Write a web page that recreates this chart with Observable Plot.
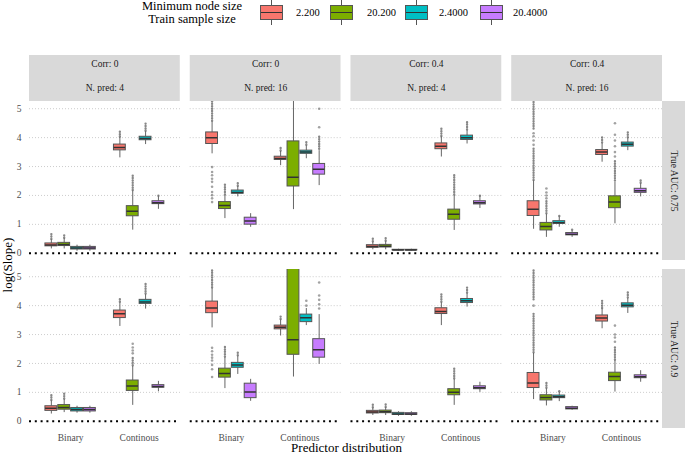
<!DOCTYPE html>
<html>
<head>
<meta charset="utf-8">
<script src="https://cdn.jsdelivr.net/npm/d3@7"></script>
<script src="https://cdn.jsdelivr.net/npm/@observablehq/plot@0.6"></script>
<style>
  body { margin: 0; background: #fff; font-family: "Liberation Serif", serif; }
  #legend { position: relative; width: 685px; height: 45px; }
  .ltitle { position: absolute; left: 132px; width: 120px; top: 0px; text-align: center; font-size: 12.5px; line-height: 12.5px; color: #000; }
  .kbox { position: absolute; top: 5px; width: 23px; height: 15px; box-sizing: border-box; border: 1px solid #555; }
  .kmed { position: absolute; left: 0; right: 0; top: 5.5px; height: 1.4px; background: #333; }
  .kwh { position: absolute; width: 1px; height: 5px; background: #555; }
  .klab { position: absolute; top: 6px; font-size: 10.5px; line-height: 13px; color: #000; }
  svg { display: block; }
  svg text { font-family: "Liberation Serif", serif; }
</style>
</head>
<body>
<div id="legend"></div>
<div id="chart"></div>
<script>
// ---- categories ----
const corrs = ["0", "0", "0.4", "0.4"];
const npreds = ["4", "16", "4", "16"];
const aucs = ["0.75", "0.9"];
const dists = ["Binary", "Continous"];
const groups = ["2.200", "20.200", "2.4000", "20.4000"];
const colors = ["#F8766D", "#7CAE00", "#00BFC4", "#C77CFF"];
const yTicks = [0, 1, 2, 3, 4, 5];
const gridTicks = [1, 2, 3, 4, 5];

// ---- box statistics [whisker low, Q1, median, Q3, whisker high] ----
// order in each panel: Binary (2.200, 20.200, 2.4000, 20.4000), Continous (same)
const p1_corr0_n4_auc075 = [
  [0.15, 0.24, 0.29, 0.34, 0.46], [0.15, 0.25, 0.30, 0.36, 0.50], [0.07, 0.13, 0.18, 0.22, 0.28], [0.07, 0.13, 0.18, 0.22, 0.28],
  [3.30, 3.56, 3.66, 3.76, 4.00], [0.80, 1.28, 1.45, 1.63, 2.15], [3.76, 3.91, 3.97, 4.03, 4.20], [1.52, 1.70, 1.75, 1.80, 1.95]
];
const p2_corr0_n16_auc075 = [
  [3.44, 3.78, 4.00, 4.18, 4.55], [1.20, 1.53, 1.65, 1.77, 2.00], [1.95, 2.06, 2.10, 2.17, 2.30], [0.90, 0.99, 1.12, 1.23, 1.37],
  [3.03, 3.23, 3.28, 3.34, 3.52], [1.51, 2.31, 2.63, 3.87, 6.00], [3.27, 3.44, 3.50, 3.55, 3.72], [2.34, 2.72, 2.91, 3.09, 3.55]
];
const p3_corr04_n4_auc075 = [
  [0.12, 0.19, 0.23, 0.28, 0.38], [0.12, 0.20, 0.24, 0.29, 0.40], [0.08, 0.10, 0.11, 0.12, 0.14], [0.08, 0.10, 0.11, 0.12, 0.14],
  [3.33, 3.60, 3.70, 3.80, 4.02], [0.79, 1.16, 1.35, 1.51, 2.00], [3.78, 3.92, 4.00, 4.07, 4.25], [1.55, 1.69, 1.75, 1.80, 1.95]
];
const p4_corr04_n16_auc075 = [
  [0.83, 1.29, 1.52, 1.80, 2.50], [0.55, 0.79, 0.93, 1.05, 1.35], [0.90, 1.02, 1.06, 1.11, 1.25], [0.55, 0.62, 0.66, 0.70, 0.78],
  [3.15, 3.40, 3.50, 3.57, 3.80], [1.02, 1.56, 1.77, 1.97, 2.45], [3.55, 3.69, 3.77, 3.83, 3.98], [1.95, 2.09, 2.16, 2.23, 2.40]
];
const p5_corr0_n4_auc09 = [
  [0.25, 0.36, 0.45, 0.52, 0.70], [0.30, 0.40, 0.48, 0.56, 0.75], [0.28, 0.34, 0.41, 0.46, 0.52], [0.28, 0.34, 0.41, 0.46, 0.52],
  [3.28, 3.57, 3.72, 3.83, 4.10], [0.55, 1.05, 1.22, 1.41, 1.90], [3.88, 4.06, 4.13, 4.20, 4.38], [1.02, 1.16, 1.20, 1.25, 1.38]
];
const p6_corr0_n16_auc09 = [
  [3.23, 3.74, 3.92, 4.14, 4.60], [1.13, 1.51, 1.65, 1.82, 2.20], [1.62, 1.85, 1.95, 2.02, 2.25], [0.69, 0.80, 1.01, 1.30, 1.45],
  [2.95, 3.18, 3.25, 3.31, 3.50], [1.53, 2.30, 2.82, 5.60, 7.00], [3.31, 3.43, 3.58, 3.69, 3.90], [1.97, 2.20, 2.47, 2.84, 3.69]
];
const p7_corr04_n4_auc09 = [
  [0.20, 0.27, 0.32, 0.36, 0.45], [0.20, 0.28, 0.33, 0.37, 0.46], [0.17, 0.22, 0.25, 0.29, 0.33], [0.17, 0.22, 0.25, 0.28, 0.33],
  [3.31, 3.71, 3.80, 3.91, 4.10], [0.55, 0.90, 1.00, 1.11, 1.45], [3.95, 4.09, 4.17, 4.23, 4.42], [1.00, 1.11, 1.16, 1.21, 1.35]
];
const p8_corr04_n16_auc09 = [
  [0.75, 1.15, 1.32, 1.67, 2.35], [0.53, 0.72, 0.82, 0.90, 1.12], [0.68, 0.80, 0.85, 0.89, 1.00], [0.38, 0.41, 0.45, 0.49, 0.52],
  [3.20, 3.45, 3.57, 3.66, 3.88], [1.01, 1.39, 1.55, 1.68, 2.10], [3.73, 3.94, 4.01, 4.08, 4.25], [1.35, 1.49, 1.54, 1.59, 1.75]
];

// ---- dense outlier runs [panel (1-8), box (0-7), from, to] ----
const outlierRuns = [
  [1,0,0.48,0.68],[1,1,0.52,0.68],[1,4,4.02,4.22],[1,5,2.17,2.75],[1,6,4.22,4.47],[1,7,1.97,2.00],
  [2,0,4.57,5.30],[2,1,2.02,2.40],[2,2,2.32,2.42],[2,4,3.54,3.68],[2,6,3.74,3.85],[2,7,3.60,4.05],
  [3,0,0.40,0.56],[3,1,0.42,0.56],[3,4,4.04,4.30],[3,5,2.02,2.70],[3,6,4.27,4.58],[3,7,1.97,2.02],
  [4,0,2.52,3.60],[4,0,4.30,5.30],[4,1,1.37,1.80],[4,2,1.27,1.35],[4,3,0.80,0.87],[4,4,3.82,4.02],[4,5,2.50,3.20],[4,6,4.00,4.22],[4,7,2.42,2.58],
  [5,0,0.72,0.93],[5,1,0.77,0.97],[5,4,4.12,4.25],[5,5,1.92,2.25],[5,6,4.40,4.77],
  [6,0,4.62,5.23],[6,1,2.22,2.59],[6,2,2.27,2.40],[6,4,3.52,3.65],
  [7,0,0.47,0.63],[7,1,0.48,0.62],[7,4,4.12,4.45],[7,5,1.47,1.87],[7,6,4.44,4.63],
  [8,0,2.37,3.70],[8,0,4.20,5.22],[8,1,1.14,1.33],[8,2,1.02,1.06],[8,4,3.90,4.23],[8,5,2.12,2.60],[8,6,4.27,4.46]
];
// ---- isolated outliers [panel, box, values...] ----
const outlierPoints = [
  [2,0,1.77,1.90,2.01,2.12,2.30,2.47,2.58,2.70,2.81,2.98],
  [2,7,4.36,5.00],
  [4,0,3.75,3.90,4.05,4.15],
  [4,1,1.90,2.00,2.10,2.24],
  [4,5,3.35,3.50,3.70,3.90,4.10,4.50],
  [5,5,2.35,2.45,2.55,2.68],
  [6,0,1.53,1.80,1.95,2.10,2.20,2.30,2.42,2.54],
  [6,6,4.00,4.17],
  [6,7,3.90,4.05,4.20,4.35,4.80],
  [8,0,4.00],
  [8,5,2.75,2.90,3.00,3.31]
];

const panels = [p1_corr0_n4_auc075, p2_corr0_n16_auc075, p3_corr04_n4_auc075, p4_corr04_n16_auc075,
                p5_corr0_n4_auc09, p6_corr0_n16_auc09, p7_corr04_n4_auc09, p8_corr04_n16_auc09];

// ---- build tables ----
const colKeys = corrs.map((c, i) => `Corr: ${c}\nN. pred: ${npreds[i]}`);
const rowKeys = aucs.map(a => `True AUC: ${a}`);
const yDomain = [-0.25, 5.25];
const xDomain = [0.4, 2.6];
const dodge = 0.75 / groups.length;
const half = dodge / 2;
const boxX = b => Math.floor(b / 4) + 1 + ((b % 4) - 1.5) * dodge;

const boxes = [];
panels.forEach((panel, p) => panel.forEach((s, b) => boxes.push({
  fx: colKeys[p % 4], fy: rowKeys[Math.floor(p / 4)], x: boxX(b), group: groups[b % 4],
  lo: s[0], q1: s[1], med: s[2], q3: s[3], hi: s[4]
})));
const runs = outlierRuns.map(([p, b, a, z]) => ({fx: colKeys[(p - 1) % 4], fy: rowKeys[Math.floor((p - 1) / 4)], x: boxX(b), a, z}));
const pts = outlierPoints.flatMap(([p, b, ...vals]) => vals.map(v => ({fx: colKeys[(p - 1) % 4], fy: rowKeys[Math.floor((p - 1) / 4)], x: boxX(b), v})));
const topStrips = colKeys.map(k => ({fx: k, fy: rowKeys[0], label: k}));
const rightStrips = rowKeys.map(k => ({fx: colKeys[3], fy: k, label: k}));
const serif = "'Liberation Serif', serif";

const chart = Plot.plot({
  width: 685, height: 413,
  marginLeft: 29, marginRight: 23, marginTop: 56, marginBottom: 30,
  style: {fontFamily: serif, fontSize: "9.5px", background: "white", overflow: "visible"},
  fx: {domain: colKeys, paddingInner: 0.062, paddingOuter: 0, round: false, axis: null},
  fy: {domain: rowKeys, paddingInner: 0.0536, paddingOuter: 0, round: false, axis: null},
  x: {domain: xDomain},
  y: {domain: yDomain},
  color: {domain: groups, range: colors},
  marks: [
    // strips
    Plot.rect(topStrips, {fx: "fx", fy: "fy", y1: () => yDomain[1], y2: () => yDomain[1], insetTop: -46, fill: "#D9D9D9"}),
    Plot.text(topStrips, {fx: "fx", fy: "fy", text: "label", frameAnchor: "top", dy: -30, lineAnchor: "middle", textAnchor: "middle", lineHeight: 2.45, fontSize: 9.5, fontFamily: serif, fill: "#1a1a1a"}),
    Plot.rect(rightStrips, {fx: "fx", fy: "fy", x1: () => xDomain[1], x2: () => xDomain[1], insetRight: -23, fill: "#D9D9D9"}),
    Plot.text(rightStrips, {fx: "fx", fy: "fy", text: "label", frameAnchor: "right", dx: 11.5, rotate: 90, lineAnchor: "middle", textAnchor: "middle", fontSize: 9.5, fontFamily: serif, fill: "#1a1a1a"}),
    // grid + zero line
    Plot.ruleY(gridTicks, {stroke: "#b0b0b0", strokeWidth: 0.8, strokeDasharray: "0.8,2.2"}),
    Plot.ruleY([0], {stroke: "#000", strokeWidth: 1.8, strokeDasharray: "2,3.8"}),
    // axes
    Plot.axisY(yTicks, {tickSize: 0, tickPadding: 8, fontSize: 9.5, fontFamily: serif, color: "#4D4D4D", label: null}),
    Plot.axisX([1, 2], {tickSize: 0, tickPadding: 6, fontSize: 9.5, fontFamily: serif, color: "#4D4D4D", label: null, tickFormat: d => dists[d - 1]}),
    // boxplots
    Plot.ruleX(boxes, {fx: "fx", fy: "fy", x: "x", y1: "lo", y2: "q1", stroke: "#555", strokeWidth: 0.9, clip: true}),
    Plot.ruleX(boxes, {fx: "fx", fy: "fy", x: "x", y1: "q3", y2: "hi", stroke: "#555", strokeWidth: 0.9, clip: true}),
    Plot.ruleX(runs, {fx: "fx", fy: "fy", x: "x", y1: "a", y2: "z", stroke: "#555", strokeOpacity: 0.7, strokeWidth: 2.4, strokeDasharray: "0,2.4", strokeLinecap: "round", clip: true}),
    Plot.dot(pts, {fx: "fx", fy: "fy", x: "x", y: "v", r: 1.3, fill: "#555", fillOpacity: 0.55, stroke: null, clip: true}),
    Plot.rect(boxes, {fx: "fx", fy: "fy", x1: d => d.x - half, x2: d => d.x + half, y1: "q1", y2: "q3", fill: "group", stroke: "#555", strokeWidth: 1, insetLeft: 0.5, insetRight: 0.5, clip: true}),
    Plot.ruleY(boxes, {fx: "fx", fy: "fy", y: "med", x1: d => d.x - half + 0.01, x2: d => d.x + half - 0.01, stroke: "#333", strokeWidth: 1.5, clip: true}),
    // axis titles
    Plot.text([{fx: colKeys[0], fy: rowKeys[0]}], {fx: "fx", fy: "fy", text: () => "log(Slope)", frameAnchor: "bottom-left", dx: -22, dy: 4.5, rotate: -90, lineAnchor: "middle", textAnchor: "middle", fontSize: 13, fontFamily: serif, fill: "#000"}),
    Plot.text([{fx: colKeys[1], fy: rowKeys[1]}], {fx: "fx", fy: "fy", text: () => "Predictor distribution", frameAnchor: "bottom-right", dx: 5.5, dy: 19.5, lineAnchor: "middle", textAnchor: "middle", fontSize: 13, fontFamily: serif, fill: "#000"})
  ]
});
document.getElementById("chart").appendChild(chart);

// ---- legend ----
const legendKeyLeft = [260, 330, 405, 480];
const legendLabelLeft = [296, 367, 439, 513];
const legend = d3.select("#legend");
legend.append("div").attr("class", "ltitle").html("Minimum node size<br>Train sample size");
groups.forEach((g, i) => {
  const x = legendKeyLeft[i];
  legend.append("div").attr("class", "kwh").style("left", (x + 11) + "px").style("top", "0px");
  legend.append("div").attr("class", "kwh").style("left", (x + 11) + "px").style("top", "20px");
  const box = legend.append("div").attr("class", "kbox").style("left", x + "px").style("background", colors[i]);
  box.append("div").attr("class", "kmed");
  legend.append("div").attr("class", "klab").style("left", legendLabelLeft[i] + "px").text(g);
});
</script>
</body>
</html>
